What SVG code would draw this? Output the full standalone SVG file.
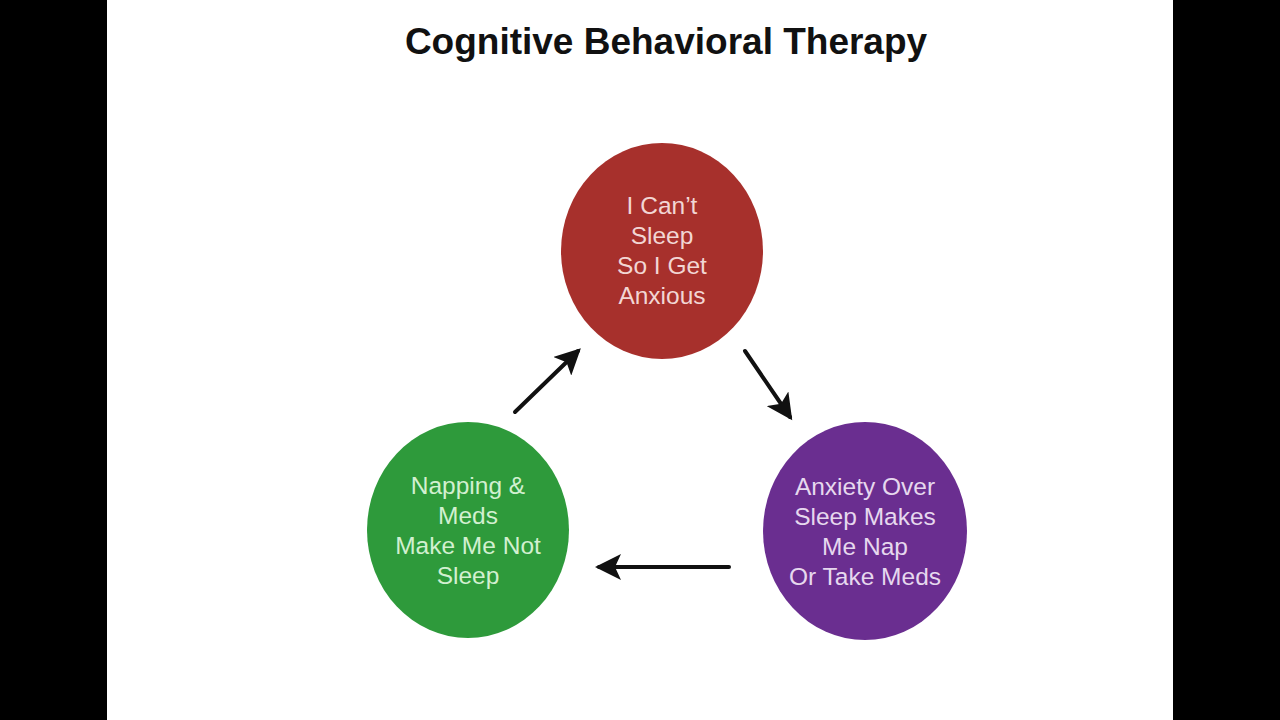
<svg xmlns="http://www.w3.org/2000/svg" width="1280" height="720" viewBox="0 0 1280 720">
<style>
.lbl{font-family:"Liberation Sans",Arial,sans-serif;font-size:24.5px;text-anchor:middle}
.conn{stroke:#111;stroke-width:4;fill:none;stroke-linecap:round}
</style>
<defs>
<marker id="ah2" markerWidth="28" markerHeight="26" refX="22" refY="13" orient="auto" markerUnits="userSpaceOnUse">
<path d="M0,0 L26,13 L0,26 L6,13 Z" fill="#111"/>
</marker>
</defs>
<rect x="0" y="0" width="1280" height="720" fill="#000"/>
<rect x="107" y="0" width="1066" height="720" fill="#fff"/>
<text x="666" y="54" font-family="Liberation Sans,Arial,sans-serif" font-weight="bold" font-size="37" text-anchor="middle" fill="#111">Cognitive Behavioral Therapy</text>
<g id="connectors">
<line class="conn" x1="515" y1="412" x2="578" y2="351" marker-end="url(#ah2)"/>
<line class="conn" x1="745" y1="351" x2="790" y2="417" marker-end="url(#ah2)"/>
<line class="conn" x1="729" y1="567" x2="599" y2="567" marker-end="url(#ah2)"/>
</g>
<g id="node-top">
<ellipse cx="662" cy="251" rx="101" ry="108" fill="#a7302c"/>
<text class="lbl" fill="#f2d6d4"><tspan x="662" y="214">I Can’t</tspan><tspan x="662" y="244">Sleep</tspan><tspan x="662" y="274">So I Get</tspan><tspan x="662" y="304">Anxious</tspan></text>
</g>
<g id="node-right">
<ellipse cx="865" cy="531" rx="102" ry="109" fill="#6a2e90"/>
<text class="lbl" fill="#e6d8ee"><tspan x="865" y="495">Anxiety Over</tspan><tspan x="865" y="525">Sleep Makes</tspan><tspan x="865" y="555">Me Nap</tspan><tspan x="865" y="585">Or Take Meds</tspan></text>
</g>
<g id="node-left">
<ellipse cx="468" cy="530" rx="101" ry="108" fill="#2e9a3b"/>
<text class="lbl" fill="#d2f0d0"><tspan x="468" y="494">Napping &amp;</tspan><tspan x="468" y="524">Meds</tspan><tspan x="468" y="554">Make Me Not</tspan><tspan x="468" y="584">Sleep</tspan></text>
</g>
</svg>
